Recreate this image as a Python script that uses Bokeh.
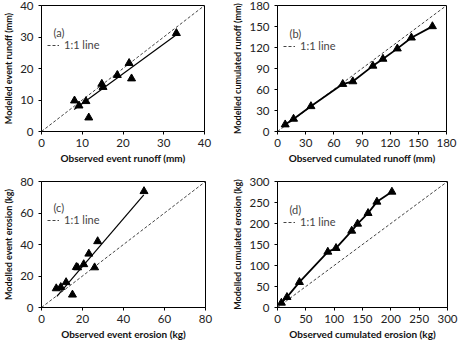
from bokeh.plotting import figure
from bokeh.layouts import column, row
from bokeh.models import Range1d, SingleIntervalTicker, Label, Legend, LegendItem
from bokeh.embed import file_html
from bokeh.resources import INLINE

FONT = "Lato"

# (a) event runoff (mm)
a_obs = [8.1, 9.2, 10.9, 11.6, 14.8, 15.1, 18.6, 21.5, 22.1, 33.1]
a_mod = [9.8, 8.2, 9.6, 4.4, 15.1, 14.1, 17.9, 21.7, 16.8, 31.2]
a_fit_x = [8.0, 33.1]
a_fit_y = [7.0, 30.7]

# (b) cumulated runoff (mm)
b_obs = [8.2, 17.1, 35.6, 69.5, 80.2, 101.6, 112.3, 127.6, 142.6, 165.0]
b_mod = [9.9, 18.0, 36.0, 67.7, 71.5, 93.8, 103.7, 118.4, 134.0, 150.2]

# (c) event erosion (kg)
c_obs = [7.2, 9.4, 12.0, 15.1, 17.0, 17.6, 20.6, 23.1, 25.9, 27.4, 50.0]
c_mod = [12.1, 12.9, 16.0, 8.1, 25.6, 25.4, 27.4, 34.1, 25.4, 42.0, 73.8]
c_fit_x = [7.5, 49.9]
c_fit_y = [7.1, 71.5]

# (d) cumulated erosion (kg)
d_obs = [6.9, 16.7, 38.7, 88.8, 103.3, 131.0, 141.3, 159.8, 175.4, 201.9]
d_mod = [11.1, 24.6, 60.3, 132.5, 141.3, 182.5, 199.2, 224.6, 251.6, 275.4]


def make(tag, xmax, step, xlabel, ylabel, obs, mod, fitx, fity, connect,
         w, h, bl, br, bt, bb):
    p = figure(width=w, height=h, output_backend="svg", toolbar_location=None,
               x_range=Range1d(0, xmax), y_range=Range1d(0, xmax),
               min_border_left=bl, min_border_right=br,
               min_border_top=bt, min_border_bottom=bb)
    p.outline_line_color = "black"
    p.outline_line_width = 1
    p.xgrid.visible = False
    p.ygrid.visible = False
    for ax in (p.xaxis[0], p.yaxis[0]):
        ax.ticker = SingleIntervalTicker(interval=step)
        ax.minor_tick_line_color = None
        ax.major_tick_in = 0
        ax.major_tick_out = 3
        ax.axis_line_color = "black"
        ax.major_tick_line_color = "black"
        ax.major_label_text_font = FONT
        ax.major_label_text_font_size = "11.5px"
        ax.major_label_text_color = "#222222"
        ax.axis_label_text_font = FONT
        ax.axis_label_text_font_style = "bold"
        ax.axis_label_text_color = "#111111"
    p.xaxis.axis_label_text_font_size = "10px"
    p.yaxis.axis_label_text_font_size = "9px"
    p.xaxis.axis_label = xlabel
    p.yaxis.axis_label = ylabel
    p.xaxis.axis_label_standoff = 2
    p.yaxis.axis_label_standoff = 3
    p.xaxis.major_label_standoff = 3
    p.yaxis.major_label_standoff = 4

    one = p.line([0, xmax], [0, xmax], line_color="#444444", line_width=1,
                 line_dash="3 2")
    if connect:
        p.line(obs, mod, line_color="black", line_width=1.8)
    else:
        p.line(fitx, fity, line_color="black", line_width=1.2)
    p.scatter(obs, mod, marker="triangle", size=8, fill_color="black",
              line_color="black")

    leg = Legend(items=[LegendItem(label="1:1 line", renderers=[one])],
                 location=(4, h - bt - bb - 49), background_fill_alpha=0,
                 border_line_alpha=0, glyph_width=12, glyph_height=10,
                 label_text_font=FONT, label_text_font_size="11px",
                 label_standoff=5, padding=2, spacing=0, margin=0)
    p.add_layout(leg)
    p.add_layout(Label(x=12, y=h - bt - bb - 34, x_units="screen",
                       y_units="screen", text=tag, text_font=FONT,
                       text_font_size="11px"))
    return p


pa = make("(a)", 40, 10, "Observed event runoff (mm)", "Modelled event runoff (mm)",
          a_obs, a_mod, a_fit_x, a_fit_y, False, 229, 171, 35, 25, 4, 40)
pb = make("(b)", 180, 30, "Observed cumulated runoff (mm)", "Modelled cumulated runoff (mm)",
          b_obs, b_mod, None, None, True, 229, 171, 48, 12, 5, 40)
pc = make("(c)", 80, 20, "Observed event erosion (kg)", "Modelled event erosion (kg)",
          c_obs, c_mod, c_fit_x, c_fit_y, False, 229, 171, 34, 24, 9, 34)
pd_ = make("(d)", 300, 50, "Observed cumulated erosion (kg)", "Modelled cumulated erosion (kg)",
           d_obs, d_mod, None, None, True, 229, 171, 44, 11, 10, 35)

layout = column(row(pa, pb), row(pc, pd_))
open("out.html", "w").write(file_html(layout, INLINE))
